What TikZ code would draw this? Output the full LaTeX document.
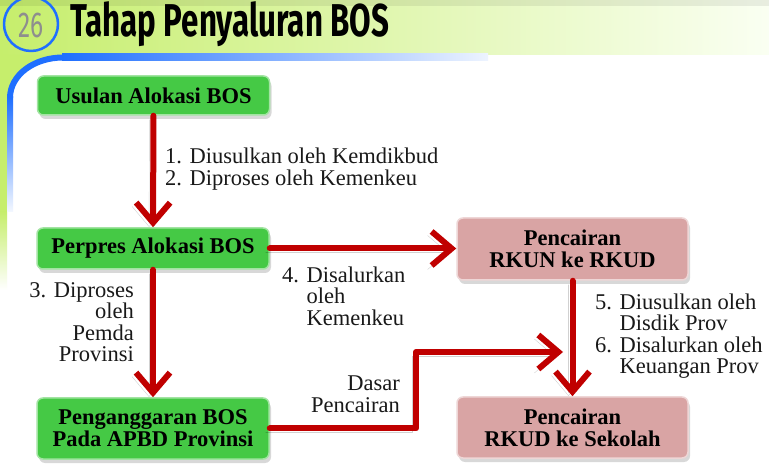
\documentclass[tikz,border=0pt]{standalone}
\usepackage{fontspec}
\setmainfont{Liberation Serif}
\newfontfamily\titlefont[FakeStretch=0.68]{Fira Sans}
\usetikzlibrary{arrows.meta,shadows,positioning}
\definecolor{hdrgreen}{HTML}{C6EE6C}
\definecolor{hdrpale}{HTML}{FAFFF2}
\definecolor{rulebl}{HTML}{1F6FFF}
\definecolor{boxgreen}{HTML}{45C945}
\definecolor{boxpink}{HTML}{D9A4A4}
\definecolor{flow}{HTML}{C00000}
\definecolor{numgray}{HTML}{8E8E8E}
\tikzset{
  StepBox/.style={
    rounded corners=6pt, line width=1.5pt,
    minimum width=232pt, inner sep=0pt, align=center,
    font=\fontsize{22.5}{22}\selectfont\bfseries,
    drop shadow={shadow xshift=2pt, shadow yshift=-4pt, opacity=0.3}
  },
  GreenBox/.style={StepBox, fill=boxgreen, draw=boxgreen!50!white},
  PinkBox/.style={StepBox, fill=boxpink, draw=boxpink!45!white},
  FlowArrow/.style={
    draw=flow, line width=6pt,
    -{Straight Barb[length=20pt,width=34pt]},
    preaction={draw=black, opacity=0.18,
      transform canvas={xshift=-4pt,yshift=-4pt}}
  },
  Note/.style={inner sep=0pt, text=black!90,
    font=\fontsize{22.5}{21.5}\selectfont}
}

\begin{document}
\begin{tikzpicture}[x=1pt, y=-1pt, line cap=round, line join=round]
  \useasboundingbox (0,0) rectangle (769,470);
  % frame
  \fill[white] (0,0) rectangle (769,470);
  \shade[left color=hdrgreen, right color=hdrpale] (0,0) rectangle (769,55);
  \fill[black, opacity=0.07] (0,0) rectangle (769,6);
  \fill[hdrgreen] (0,55) -- (63,55) .. controls (34,57) and (10,75) .. (10,97)
    -- (10,212) -- (0,212) -- cycle;
  \shade[top color=hdrgreen, bottom color=white] (0,212) rectangle (7,290);
  \shade[left color=rulebl, right color=rulebl!8] (62,54) rectangle (488,61);
  \shade[top color=rulebl, bottom color=rulebl!5] (7,97) rectangle (13,212);
  \draw[rulebl, line width=6pt, line cap=butt]
    (63,57.5) .. controls (34,57.5) and (10,75) .. (10,98);

  % title
  \draw[rulebl, line width=2.5pt] (31,24) circle (27);
  \node[text=numgray, font=\titlefont\fontsize{36}{36}\selectfont] (num) at (31,25) {26};
  \node[anchor=base west, inner sep=0pt,
    font=\titlefont\bfseries\fontsize{46}{46}\selectfont] (title) at (70,37)
    {Tahap Penyaluran BOS};

  % steps
  \node[GreenBox, minimum height=39pt] (usulan) at (153.5,95.5) {Usulan Alokasi BOS};
  \node[GreenBox, minimum height=41pt] (perpres) at (153,248.5) {Perpres Alokasi BOS};
  \node[GreenBox, minimum height=61pt] (anggaran) at (153,428.5)
    {Penganggaran BOS\\Pada APBD Provinsi};
  \node[PinkBox, minimum height=62pt, minimum width=231pt] (rkun) at (572.5,249)
    {Pencairan\\RKUN ke RKUD};
  \node[PinkBox, minimum height=61pt, minimum width=231pt] (sekolah) at (572.5,427.5)
    {Pencairan\\RKUD ke Sekolah};

  \coordinate (bend) at (416,352);
  \coordinate (merge) at (563,352);

  % connectors
  \draw[FlowArrow] (usulan) -- (perpres);
  \draw[FlowArrow] (perpres) -- (anggaran);
  \draw[FlowArrow] (perpres.east) -- (perpres.east -| rkun.west);
  \draw[FlowArrow] (rkun) -- (sekolah);
  \draw[FlowArrow] (anggaran.east) -| (bend) -- (merge);

  % labels
  \node[Note, anchor=west, align=left] (n12) at (165,169)
    {1. Diusulkan oleh Kemdikbud\\2. Diproses oleh Kemenkeu};
  \node[Note, anchor=east, align=right] (n3) at (134,322)
    {3. Diproses\\oleh\\Pemda\\Provinsi};
  \node[Note, anchor=west, align=left] (n4) at (282,296)
    {4. Disalurkan\\\phantom{4. }oleh\\\phantom{4. }Kemenkeu};
  \node[Note, anchor=east, align=right] (dasar) at (400,394)
    {Dasar\\Pencairan};
  \node[Note, anchor=west, align=left] (n56) at (595,336)
    {5. Diusulkan oleh\\\phantom{5. }Disdik Prov\\6. Disalurkan oleh\\\phantom{6. }Keuangan Prov};
\end{tikzpicture}
\end{document}
